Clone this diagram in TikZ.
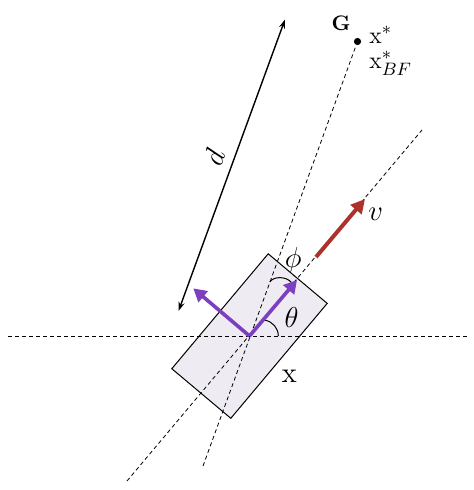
\documentclass[tikz,border=0pt]{standalone}
\usetikzlibrary{arrows.meta}
\definecolor{robotfill}{RGB}{238,235,242}
\definecolor{headpurple}{RGB}{123,63,191}
\definecolor{velred}{RGB}{172,50,45}
\begin{document}
\begin{tikzpicture}[x=0.5pt,y=-0.5pt,
  guide/.style={line width=0.4pt, dash pattern=on 2pt off 1.5pt},
  purplearrow/.style={headpurple, line width=1.8pt, -{Triangle[length=6.5pt,width=7pt]}},
  redarrow/.style={velred, line width=2pt, -{Triangle[length=7pt,width=7pt]}},
  dimarrow/.style={line width=0.7pt, {Stealth[length=4.5pt,width=3pt]}-{Stealth[length=4.5pt,width=3pt]}},
  anglearc/.style={line width=0.5pt},
  lbl/.style={font=\fontsize{14}{16}\selectfont, inner sep=0pt},
  smalllbl/.style={font=\fontsize{12.5}{15}\selectfont, inner sep=0pt},
  goallbl/.style={font=\fontsize{10.5}{12}\selectfont\bfseries, inner sep=0pt}]
\useasboundingbox (0,0) rectangle (474,490);
% robot body
\coordinate (c) at (249.5,336);
\coordinate (r1) at (268.2,253.8);
\coordinate (r2) at (327.2,303.4);
\coordinate (r3) at (230.8,418.3);
\coordinate (r4) at (171.8,368.7);
\draw[fill=robotfill, line width=0.5pt] (r1) -- (r2) -- (r3) -- (r4) -- cycle;
% guide lines
\coordinate (hL) at (8,336);
\coordinate (hR) at (468,336);
\coordinate (aL) at (127,481);
\coordinate (aR) at (422,130);
\coordinate (gL) at (203,466);
\node[circle, fill, inner sep=0pt, minimum size=3.6pt] (G) at (357.5,41.5) {};
\draw[guide] (hL) -- (hR);
\draw[guide] (aL) -- (aR);
\draw[guide] (gL) -- (G);
% angle arcs
\coordinate (t0) at (278.3,336);
\draw[anglearc] (t0) arc[start angle=0, end angle=-80, radius=16];
\coordinate (p0) at (269.8,282);
\coordinate (p1) at (292,283);
\draw[anglearc] (p0) .. controls (273,276.5) and (286,275.5) .. (p1);
% heading frame
\coordinate (hf) at (297,280);
\coordinate (hs) at (193.3,288.4);
\draw[purplearrow] (c) -- (hf);
\draw[purplearrow] (c) -- (hs);
% velocity
\coordinate (v0) at (316,257);
\coordinate (v1) at (365,199);
\draw[redarrow] (v0) -- (v1);
% distance
\coordinate (d0) at (178.5,311);
\coordinate (d1) at (285,19.5);
\draw[dimarrow] (d0) -- (d1);
% labels
\node[lbl, rotate=70] (dl) at (214,157) {$d$};
\node[lbl] (vl) at (375.8,214) {$v$};
\node[lbl] (th) at (291.7,318) {$\theta$};
\node[lbl] (ph) at (293.3,260) {$\phi$};
\node[lbl] (xl) at (289.3,376.7) {$\mathrm{x}$};
\node[goallbl, anchor=base] (Gl) at (341,31) {G};
\node[smalllbl, anchor=base west] (xs) at (369,43.5) {$\mathrm{x}^*$};
\node[smalllbl, anchor=base west] (xbf) at (369,68.5) {$\mathrm{x}^*_{BF}$};
\end{tikzpicture}
\end{document}
